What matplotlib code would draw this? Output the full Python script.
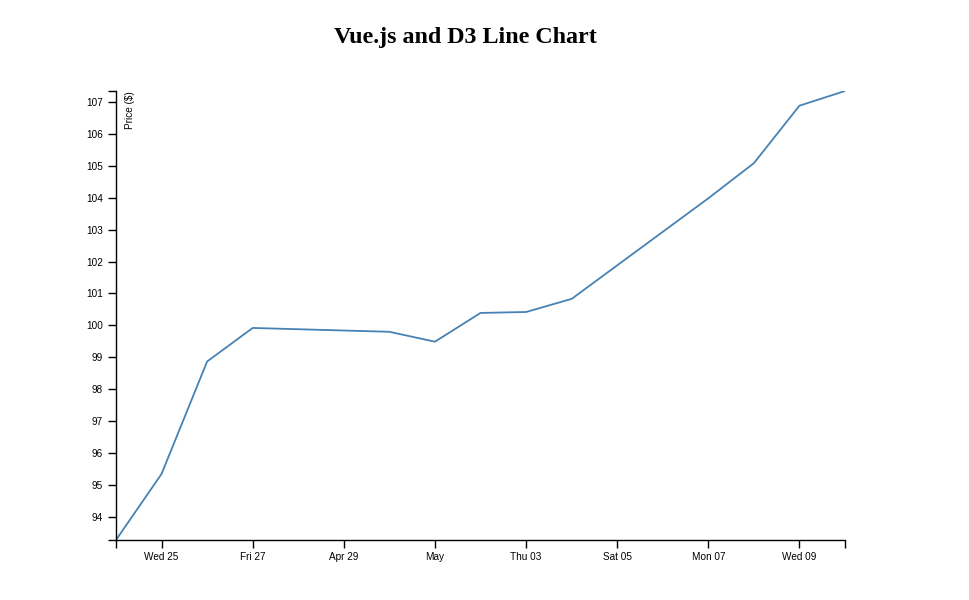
import datetime as dt

import matplotlib
matplotlib.use("Agg")
import matplotlib.pyplot as plt

dates = ["2018-04-24", "2018-04-25", "2018-04-26", "2018-04-27", "2018-04-30",
         "2018-05-01", "2018-05-02", "2018-05-03", "2018-05-04", "2018-05-07",
         "2018-05-08", "2018-05-09", "2018-05-10"]
prices = [93.28, 95.35, 98.87, 99.92, 99.80, 99.49, 100.39, 100.42, 100.83,
          103.98, 105.08, 106.88, 107.34]
tick_dates = ["2018-04-25", "2018-04-27", "2018-04-29", "2018-05-01",
              "2018-05-03", "2018-05-05", "2018-05-07", "2018-05-09"]
tick_labels = ["Wed 25", "Fri 27", "Apr 29", "May", "Thu 03", "Sat 05",
               "Mon 07", "Wed 09"]
y_ticks = list(range(94, 108))

x = [dt.datetime.fromisoformat(d) for d in dates]
xt = [dt.datetime.fromisoformat(d) for d in tick_dates]

plt.rcParams["font.family"] = ["Liberation Sans", "DejaVu Sans"]
fig = plt.figure(figsize=(9.69, 6.0), dpi=100)
ax = fig.add_axes([116 / 969, 60 / 600, 729 / 969, 449 / 600])
ax.plot(x, prices, color="steelblue", lw=1.3)
ax.set_xlim(x[0], x[-1])
ax.set_ylim(93.28, 107.34)

ax.set_xticks(xt)
ax.set_xticklabels(tick_labels)
ax.set_yticks(y_ticks)
# d3-style outer ticks at the domain ends
ax.set_xticks([x[0], x[-1]], minor=True)
ax.set_yticks([93.28, 107.34], minor=True)
ax.tick_params(which="both", labelsize=7.2, length=6, width=1, color="black")
ax.tick_params(axis="x", pad=3)
for side in ("top", "right"):
    ax.spines[side].set_visible(False)
for side in ("left", "bottom"):
    ax.spines[side].set_linewidth(1)

ax.text(0.012, 1.0, "Price ($)", transform=ax.transAxes, rotation=90,
        ha="left", va="top", fontsize=7.2)

fig.text(0.48, 0.937, "Vue.js and D3 Line Chart", ha="center", va="center",
         fontsize=17.3, fontweight="bold", family=["Liberation Serif", "DejaVu Serif"])

fig.savefig("out.png", dpi=100)
